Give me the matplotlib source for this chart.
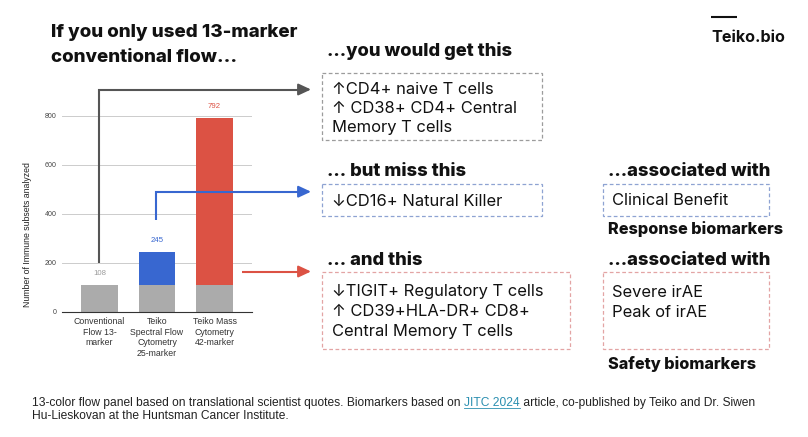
import matplotlib
matplotlib.use("Agg")
import matplotlib.pyplot as plt
from matplotlib.patches import Rectangle

# bar data
categories = ["Conventional\nFlow 13-\nmarker",
              "Teiko\nSpectral Flow\nCytometry\n25-marker",
              "Teiko Mass\nCytometry\n42-marker"]
conventional = [108, 108, 108]
totals = [108, 245, 792]
top_colors = ["#ababab", "#3867d0", "#dc5244"]
label_colors = ["#9a9a9a", "#3867d0", "#dc5244"]
y_ticks = [0, 200, 400, 600, 800]

# text content
title_lines = ["If you only used 13-marker", "conventional flow..."]
get_lines = ["\u2191CD4+ naive T cells", "\u2191 CD38+ CD4+ Central", "Memory T cells"]
miss_lines = ["\u2193CD16+ Natural Killer"]
and_lines = ["\u2193TIGIT+ Regulatory T cells", "\u2191 CD39+HLA-DR+ CD8+", "Central Memory T cells"]
response_lines = ["Clinical Benefit"]
safety_lines = ["Severe irAE", "Peak of irAE"]
footer_a = "13-color flow panel based on translational scientist quotes. Biomarkers based on "
footer_link = "JITC 2024"
footer_b = " article, co-published by Teiko and Dr. Siwen"
footer_2 = "Hu-Lieskovan at the Huntsman Cancer Institute."

W, H = 808, 437
fig = plt.figure(figsize=(W / 100, H / 100), dpi=100)
fig.patch.set_facecolor("white")

FAM = ["Inter", "DejaVu Sans"]
HEAD = dict(family=FAM, weight=800, size=13.2, color="#111111")
SUB = dict(family=FAM, weight=800, size=11.7, color="#111111")
BODY = dict(family=FAM, size=11.9, color="#111111")
SMALL = dict(family=["Liberation Sans", "DejaVu Sans"])

# --- bar chart ---
ax = fig.add_axes([62 / W, 1 - 311.7 / H, 190 / W, (311.7 - 91.2) / H])
x = range(len(categories))
extra = [t - c for t, c in zip(totals, conventional)]
ax.bar(x, conventional, width=0.64, color="#ababab", zorder=2)
ax.bar(x, extra, bottom=conventional, width=0.64, color=top_colors, zorder=2)
for i, t in enumerate(totals):
    ax.annotate(str(t), (i, t), xytext=(0, 7.3), textcoords="offset points",
                ha="center", va="baseline", fontsize=5.6, color=label_colors[i], **SMALL)
ax.set_xlim(-0.652, 2.652)
ax.set_ylim(0, 900)
ax.set_yticks(y_ticks)
ax.set_yticklabels([str(v) for v in y_ticks], fontsize=5.1, color="#444444", **SMALL)
ax.set_xticks(list(x))
ax.set_xticklabels(categories, fontsize=6.3, color="#333333", linespacing=1.22, **SMALL)
ax.tick_params(length=0, pad=4)
ax.grid(axis="y", color="#cccccc", lw=0.7, zorder=0)
for s in ["top", "right", "left"]:
    ax.spines[s].set_visible(False)
ax.spines["bottom"].set_color("#333333")
ax.spines["bottom"].set_linewidth(0.8)
ax.spines["bottom"].set_zorder(3)
ax.set_ylabel("Number of Immune subsets analyzed", fontsize=6.3, color="#222222", **SMALL)
ax.yaxis.set_label_coords(-0.16, 0.35)

# --- overlay in pixel coordinates ---
ov = fig.add_axes([0, 0, 1, 1])
ov.set_xlim(0, W)
ov.set_ylim(H, 0)
ov.axis("off")


def lines_at(xp, ys, lines, **kw):
    for yy, s in zip(ys, lines):
        ov.text(xp, yy, s, va="baseline", ha="left", **kw)


lines_at(51, [37, 62], title_lines, **dict(HEAD, size=13.5))
lines_at(326.7, [56], ["...you would get this"], **HEAD)
lines_at(326.7, [175.7], ["... but miss this"], **HEAD)
lines_at(326.7, [265], ["... and this"], **HEAD)
lines_at(608, [175.7], ["...associated with"], **HEAD)
lines_at(608, [265], ["...associated with"], **HEAD)
lines_at(608, [234.3], ["Response biomarkers"], **SUB)
lines_at(608, [369.3], ["Safety biomarkers"], **SUB)

lines_at(331.7, [94.3, 113.3, 132.3], get_lines, **BODY)
lines_at(331.7, [206], miss_lines, **BODY)
lines_at(331.7, [296, 316, 336], and_lines, **BODY)
lines_at(612.3, [205], response_lines, **BODY)
lines_at(612.3, [296.7, 316.7], safety_lines, **BODY)

# dashed boxes
gray_edge, blue_edge, red_edge = "#9c9c9c", "#8ea3d2", "#e3a4a4"
for (x0, y0, x1, y1), ec in [((321.7, 73.3, 542.3, 140), gray_edge),
                             ((321.7, 184, 542.3, 215.5), blue_edge),
                             ((321.7, 271.7, 570, 349.3), red_edge),
                             ((602.7, 184, 769.3, 215.5), blue_edge),
                             ((602.7, 271.7, 769.3, 349.3), red_edge)]:
    ov.add_patch(Rectangle((x0, y0), x1 - x0, y1 - y0, fill=False, ec=ec,
                           lw=0.9, ls=(0, (3, 2))))

# connector arrows
arrow_specs = [
    ("#555555", [(99.3, 263.3), (99.3, 89.5)], (311, 89.5)),
    ("#3867d0", [(156, 220), (156, 191.7)], (311, 191.7)),
    ("#dc5244", [(241.7, 271.5)], (311, 271.5)),
]
for col, pts, tip in arrow_specs:
    xs = [p[0] for p in pts] + [tip[0] - 8]
    ys = [p[1] for p in pts] + [tip[1]]
    ov.plot(xs, ys, color=col, lw=1.5, solid_joinstyle="miter", solid_capstyle="butt")
    ov.annotate("", xy=tip, xytext=(tip[0] - 9, tip[1]),
                arrowprops=dict(arrowstyle="-|>,head_length=0.75,head_width=0.35",
                                color=col, lw=1.5, shrinkA=0, shrinkB=0))

# logo
ov.plot([711, 736.7], [17.3, 17.3], color="#111111", lw=1.5, solid_capstyle="butt")
ov.text(711, 41.7, "Teiko.bio", va="baseline", ha="left", family=FAM,
        weight="bold", size=11.6, color="#111111")

# footer
FOOT = dict(fontsize=8.62, va="baseline", ha="left", **SMALL)
fig.canvas.draw()
r = fig.canvas.get_renderer()
t1 = ov.text(32.3, 406, footer_a, color="#222222", **FOOT)
bb = t1.get_window_extent(r)
x_link = ov.transData.inverted().transform((bb.x1, bb.y0))[0]
t2 = ov.text(x_link, 406, footer_link, color="#2b8fb0", **FOOT)
bb2 = t2.get_window_extent(r)
x_end = ov.transData.inverted().transform((bb2.x1, bb2.y0))[0]
ov.plot([x_link, x_end], [408.2, 408.2], color="#2b8fb0", lw=0.6)
ov.text(x_end, 406, footer_b, color="#222222", **FOOT)
ov.text(32.3, 419, footer_2, color="#222222", **FOOT)

fig.savefig("out.png", dpi=100, facecolor="white")
